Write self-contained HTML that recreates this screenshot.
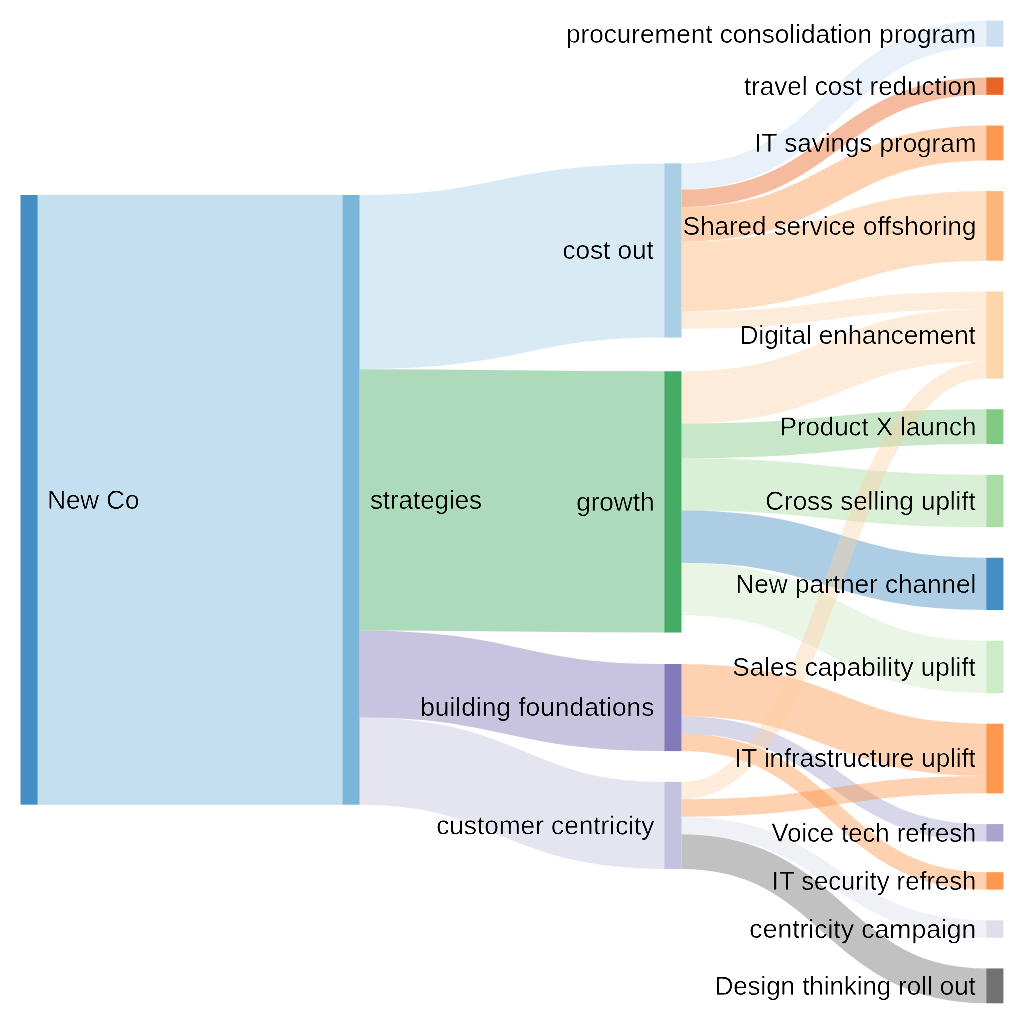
<!DOCTYPE html>
<html><head><meta charset="utf-8"><title>Sankey</title>
<style>
html,body{margin:0;padding:0;background:#fff;}
svg{display:block;}
text{font-family:"Liberation Sans",sans-serif;font-size:26.1px;fill:#000;}
.link{fill:none;stroke-opacity:0.4;}
.node{fill-opacity:0.9;}
</style></head><body>
<svg width="1024" height="1024" viewBox="0 0 1024 1024">
<rect width="1024" height="1024" fill="#fff"/>
<defs><filter id="thin" x="0" y="0" width="1024" height="1024" filterUnits="userSpaceOnUse" color-interpolation-filters="sRGB"><feGaussianBlur stdDeviation="0.45"/><feComponentTransfer><feFuncA type="linear" slope="2" intercept="-0.8"/></feComponentTransfer></filter></defs>
<g>
<path class="link" d="M37.65,499.85C190.03,499.85 190.03,499.85 342.42,499.85" stroke="#6baed6" stroke-width="609.70"/>
<path class="link" d="M359.57,499.85C511.95,499.85 511.95,501.90 664.33,501.90" stroke="#31a354" stroke-width="261.30"/>
<path class="link" d="M359.57,282.10C511.95,282.10 511.95,250.50 664.33,250.50" stroke="#9ecae1" stroke-width="174.20"/>
<path class="link" d="M359.57,674.05C511.95,674.05 511.95,707.55 664.33,707.55" stroke="#756bb1" stroke-width="87.10"/>
<path class="link" d="M359.57,761.15C511.95,761.15 511.95,825.45 664.33,825.45" stroke="#bcbddc" stroke-width="87.10"/>
<path class="link" d="M681.48,276.63C833.87,276.63 833.87,225.93 986.25,225.93" stroke="#fdae6b" stroke-width="69.68"/>
<path class="link" d="M681.48,397.38C833.87,397.38 833.87,335.02 986.25,335.02" stroke="#fdd0a2" stroke-width="52.26"/>
<path class="link" d="M681.48,484.48C833.87,484.48 833.87,500.94 986.25,500.94" stroke="#a1d99b" stroke-width="52.26"/>
<path class="link" d="M681.48,536.74C833.87,536.74 833.87,583.90 986.25,583.90" stroke="#3182bd" stroke-width="52.26"/>
<path class="link" d="M681.48,589.00C833.87,589.00 833.87,666.86 986.25,666.86" stroke="#c7e9c0" stroke-width="52.26"/>
<path class="link" d="M681.48,690.13C833.87,690.13 833.87,749.82 986.25,749.82" stroke="#fd8d3c" stroke-width="52.26"/>
<path class="link" d="M681.48,224.37C833.87,224.37 833.87,142.97 986.25,142.97" stroke="#fd8d3c" stroke-width="34.84"/>
<path class="link" d="M681.48,440.93C833.87,440.93 833.87,426.69 986.25,426.69" stroke="#74c476" stroke-width="34.84"/>
<path class="link" d="M681.48,851.58C833.87,851.58 833.87,985.85 986.25,985.85" stroke="#636363" stroke-width="34.84"/>
<path class="link" d="M681.48,176.47C833.87,176.47 833.87,33.67 986.25,33.67" stroke="#c6dbef" stroke-width="26.13"/>
<path class="link" d="M681.48,198.24C833.87,198.24 833.87,86.14 986.25,86.14" stroke="#e6550d" stroke-width="17.42"/>
<path class="link" d="M681.48,320.18C833.87,320.18 833.87,300.18 986.25,300.18" stroke="#fdd0a2" stroke-width="17.42"/>
<path class="link" d="M681.48,724.97C833.87,724.97 833.87,832.78 986.25,832.78" stroke="#9e9ac8" stroke-width="17.42"/>
<path class="link" d="M681.48,742.39C833.87,742.39 833.87,880.90 986.25,880.90" stroke="#fd8d3c" stroke-width="17.42"/>
<path class="link" d="M681.48,790.61C833.87,790.61 833.87,369.86 986.25,369.86" stroke="#fdd0a2" stroke-width="17.42"/>
<path class="link" d="M681.48,808.03C833.87,808.03 833.87,784.66 986.25,784.66" stroke="#fd8d3c" stroke-width="17.42"/>
<path class="link" d="M681.48,825.45C833.87,825.45 833.87,929.02 986.25,929.02" stroke="#dadaeb" stroke-width="17.42"/>
</g><g>
<rect class="node" x="20.5" y="195.00" width="17.15" height="609.70" fill="#3182bd"/>
<rect class="node" x="342.42" y="195.00" width="17.15" height="609.70" fill="#6baed6"/>
<rect class="node" x="664.33" y="163.40" width="17.15" height="174.20" fill="#9ecae1"/>
<rect class="node" x="664.33" y="371.25" width="17.15" height="261.30" fill="#31a354"/>
<rect class="node" x="664.33" y="664.00" width="17.15" height="87.10" fill="#756bb1"/>
<rect class="node" x="664.33" y="781.90" width="17.15" height="87.10" fill="#bcbddc"/>
<rect class="node" x="986.25" y="20.60" width="17.15" height="26.13" fill="#c6dbef"/>
<rect class="node" x="986.25" y="77.43" width="17.15" height="17.42" fill="#e6550d"/>
<rect class="node" x="986.25" y="125.55" width="17.15" height="34.84" fill="#fd8d3c"/>
<rect class="node" x="986.25" y="191.09" width="17.15" height="69.68" fill="#fdae6b"/>
<rect class="node" x="986.25" y="291.47" width="17.15" height="87.10" fill="#fdd0a2"/>
<rect class="node" x="986.25" y="409.27" width="17.15" height="34.84" fill="#74c476"/>
<rect class="node" x="986.25" y="474.81" width="17.15" height="52.26" fill="#a1d99b"/>
<rect class="node" x="986.25" y="557.77" width="17.15" height="52.26" fill="#3182bd"/>
<rect class="node" x="986.25" y="640.73" width="17.15" height="52.26" fill="#c7e9c0"/>
<rect class="node" x="986.25" y="723.69" width="17.15" height="69.68" fill="#fd8d3c"/>
<rect class="node" x="986.25" y="824.07" width="17.15" height="17.42" fill="#9e9ac8"/>
<rect class="node" x="986.25" y="872.19" width="17.15" height="17.42" fill="#fd8d3c"/>
<rect class="node" x="986.25" y="920.31" width="17.15" height="17.42" fill="#dadaeb"/>
<rect class="node" x="986.25" y="968.43" width="17.15" height="34.84" fill="#636363"/>
</g><g filter="url(#thin)">
<text x="47.30" y="508.75" text-anchor="start" textLength="92.01" lengthAdjust="spacingAndGlyphs" transform="rotate(0.03 93.3 508.8)">New Co</text>
<text x="369.92" y="508.75" text-anchor="start" textLength="112.09" lengthAdjust="spacingAndGlyphs" transform="rotate(0.03 426.0 508.8)">strategies</text>
<text x="653.83" y="259.40" text-anchor="end" textLength="91.34" lengthAdjust="spacingAndGlyphs" transform="rotate(0.03 608.2 259.4)">cost out</text>
<text x="654.43" y="510.80" text-anchor="end" textLength="78.29" lengthAdjust="spacingAndGlyphs" transform="rotate(0.03 615.3 510.8)">growth</text>
<text x="654.43" y="716.45" text-anchor="end" textLength="234.24" lengthAdjust="spacingAndGlyphs" transform="rotate(0.03 537.3 716.4)">building foundations</text>
<text x="654.43" y="834.35" text-anchor="end" textLength="218.23" lengthAdjust="spacingAndGlyphs" transform="rotate(0.03 545.3 834.3)">customer centricity</text>
<text x="976.35" y="42.57" text-anchor="end" textLength="410.38" lengthAdjust="spacingAndGlyphs" transform="rotate(0.03 771.2 42.6)">procurement consolidation program</text>
<text x="976.35" y="95.04" text-anchor="end" textLength="232.41" lengthAdjust="spacingAndGlyphs" transform="rotate(0.03 860.1 95.0)">travel cost reduction</text>
<text x="976.35" y="151.87" text-anchor="end" textLength="221.98" lengthAdjust="spacingAndGlyphs" transform="rotate(0.03 865.4 151.9)">IT savings program</text>
<text x="976.35" y="234.83" text-anchor="end" textLength="293.49" lengthAdjust="spacingAndGlyphs" transform="rotate(0.03 829.6 234.8)">Shared service offshoring</text>
<text x="975.75" y="343.92" text-anchor="end" textLength="236.06" lengthAdjust="spacingAndGlyphs" transform="rotate(0.03 857.7 343.9)">Digital enhancement</text>
<text x="976.35" y="435.59" text-anchor="end" textLength="196.68" lengthAdjust="spacingAndGlyphs" transform="rotate(0.03 878.0 435.6)">Product X launch</text>
<text x="975.75" y="509.84" text-anchor="end" textLength="210.44" lengthAdjust="spacingAndGlyphs" transform="rotate(0.03 870.5 509.8)">Cross selling uplift</text>
<text x="976.35" y="592.80" text-anchor="end" textLength="240.88" lengthAdjust="spacingAndGlyphs" transform="rotate(0.03 855.9 592.8)">New partner channel</text>
<text x="975.75" y="675.76" text-anchor="end" textLength="243.50" lengthAdjust="spacingAndGlyphs" transform="rotate(0.03 854.0 675.8)">Sales capability uplift</text>
<text x="975.75" y="767.43" text-anchor="end" textLength="241.45" lengthAdjust="spacingAndGlyphs" transform="rotate(0.03 855.0 767.4)">IT infrastructure uplift</text>
<text x="976.35" y="841.68" text-anchor="end" textLength="204.85" lengthAdjust="spacingAndGlyphs" transform="rotate(0.03 873.9 841.7)">Voice tech refresh</text>
<text x="976.35" y="889.80" text-anchor="end" textLength="204.55" lengthAdjust="spacingAndGlyphs" transform="rotate(0.03 874.1 889.8)">IT security refresh</text>
<text x="976.35" y="937.92" text-anchor="end" textLength="226.96" lengthAdjust="spacingAndGlyphs" transform="rotate(0.03 862.9 937.9)">centricity campaign</text>
<text x="975.75" y="994.75" text-anchor="end" textLength="261.11" lengthAdjust="spacingAndGlyphs" transform="rotate(0.03 845.2 994.8)">Design thinking roll out</text>
</g></svg></body></html>
